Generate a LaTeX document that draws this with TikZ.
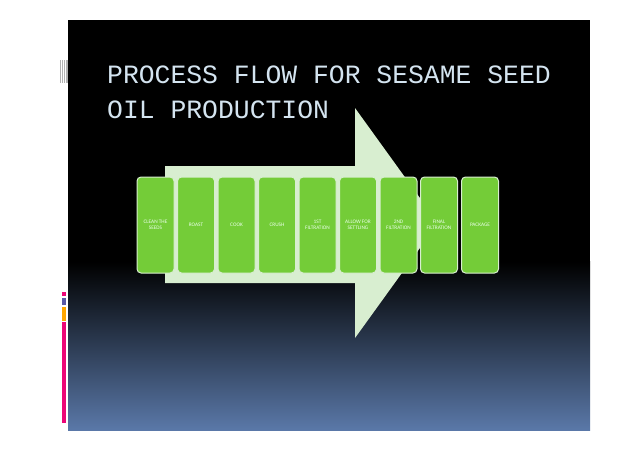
\documentclass[tikz,border=0pt]{standalone}
\usepackage{fontspec}
\newfontfamily\monof{Liberation Mono}
\newfontfamily\boxf{Carlito}
\definecolor{arrowg}{HTML}{D8EED0}
\definecolor{boxg}{HTML}{74CC38}
\definecolor{titlec}{HTML}{D4E4F0}
\definecolor{botblue}{HTML}{5A78A8}
\begin{document}
\begin{tikzpicture}[x=1pt,y=-1pt,
  stepbox/.style={draw=arrowg,line width=1pt,fill=boxg,rounded corners=4pt,minimum width=37pt,minimum height=96pt,inner sep=0pt,align=center,font=\boxf\fontsize{5.3}{6}\selectfont,text=white!92!green},
  ]
\useasboundingbox (0,0) rectangle (638,451);
\fill[white] (0,0) rectangle (638,451);
\fill[black] (68,20) rectangle (590,262);
\shade[top color=black,bottom color=botblue] (68,261.5) rectangle (590,430);
% left decorations
\fill[gray!60] (60,60) rectangle (68,83);
\foreach \xx in {61,63,65} \fill[white] (\xx,60) rectangle (\xx+0.8,83);
\fill[magenta!80!red] (62,292) rectangle (66,296);
\fill[gray!70!blue] (62,298) rectangle (66,305);
\fill[orange!70!yellow] (62,307) rectangle (66,321);
\fill[magenta!80!red] (62,322) rectangle (66,423);
% title
\node[anchor=base west,inner sep=0pt,text=titlec,font=\monof\fontsize{26.4}{30}\selectfont] (t1) at (107,83) {PROCESS FLOW FOR SESAME SEED};
\node[anchor=base west,inner sep=0pt,text=titlec,font=\monof\fontsize{26.4}{30}\selectfont] (t2) at (107,118) {OIL PRODUCTION};
% arrow
\fill[arrowg] (165,166) -- (355,166) -- (355,108) -- (438,223) -- (355,338) -- (355,283) -- (165,283) -- cycle;
% boxes
\foreach \n/\xx/\t in {a/155.5/{CLEAN THE\\SEEDS},b/196/ROAST,c/236.5/COOK,d/277/CRUSH,e/317.5/{1ST\\FILTRATION},f/358/{ALLOW FOR\\SETTLING},g/398.5/{2ND\\FILTRATION},h/439/{FINAL\\FILTRATION},i/480/PACKAGE}
  \node[stepbox] (\n) at (\xx,225) {\t};
\end{tikzpicture}
\end{document}
